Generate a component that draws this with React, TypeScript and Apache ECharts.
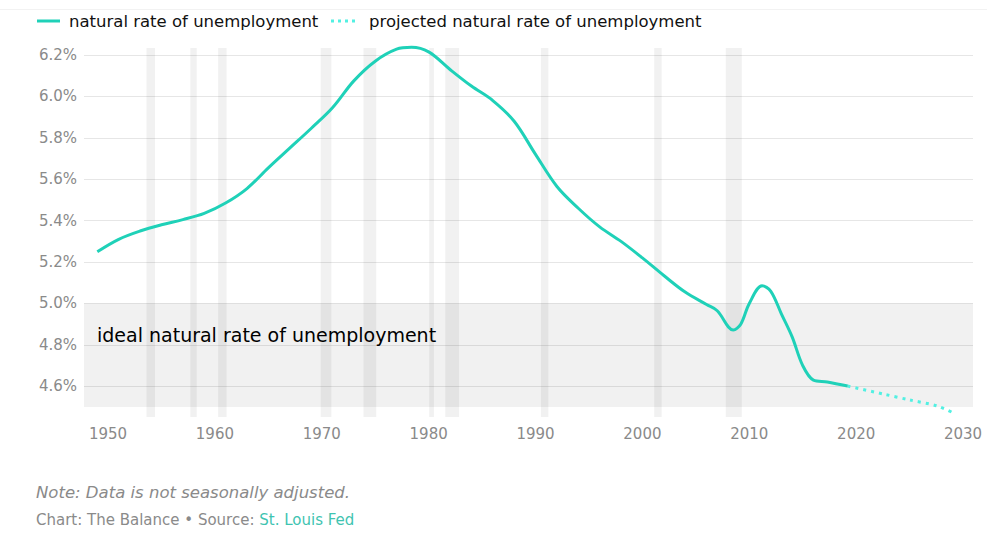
import React, { useEffect, useRef } from "react";
import * as echarts from "echarts";

// Natural rate of unemployment (%)
const years = [
  1949, 1951, 1953, 1955, 1957, 1959, 1961, 1963, 1965, 1967, 1969, 1971, 1973,
  1975, 1977, 1978.4, 1980, 1982, 1984, 1986, 1988, 1990, 1992, 1994, 1996, 1998,
  2000, 2002, 2004, 2006, 2007, 2008.5, 2009.2, 2010, 2011.2, 2012, 2013, 2014,
  2015, 2016, 2017.3, 2019.2,
];
const rates = [
  5.25, 5.31, 5.35, 5.38, 5.405, 5.435, 5.485, 5.555, 5.655, 5.75, 5.845, 5.945, 6.075,
  6.17, 6.228, 6.237, 6.215, 6.13, 6.05, 5.98, 5.88, 5.72, 5.565, 5.46, 5.37, 5.3,
  5.22, 5.135, 5.055, 4.995, 4.965, 4.872, 4.9, 5.0, 5.085, 5.06, 4.95, 4.84, 4.7,
  4.63, 4.621, 4.601,
];
// Projected natural rate of unemployment
const projYears = [2019.2, 2022.5, 2025, 2027.6, 2029.3];
const projRates = [4.601, 4.563, 4.534, 4.505, 4.466];

// Recessions (start, end), decimal years
const recessions = [
  [1953.6, 1954.4],
  [1957.7, 1958.3],
  [1960.3, 1961.1],
  [1969.9, 1970.9],
  [1973.9, 1975.1],
  [1980.05, 1980.5],
  [1981.55, 1982.85],
  [1990.5, 1991.2],
  [2001.1, 2001.8],
  [2007.8, 2009.3],
];

// Ideal range band
const idealLow = 4.5;
const idealHigh = 5.0;

const yTicks = [4.6, 4.8, 5.0, 5.2, 5.4, 5.6, 5.8, 6.0, 6.2];
const xTicks = [1950, 1960, 1970, 1980, 1990, 2000, 2010, 2020, 2030];

const seriesNames = [
  "natural rate of unemployment",
  "projected natural rate of unemployment",
];

const X_MIN = 1947.754;
const X_MAX = 2030.93;
const Y_MIN = 4.4517;
const Y_MAX = 6.2338;

const FONT = "'DejaVu Sans', sans-serif";
const TEAL = "#1fd1b8";
const CYAN = "#52f0e2";
const GREY = "#8a8a8a";

export default function App() {
  const ref = useRef<HTMLDivElement>(null);

  useEffect(() => {
    if (!ref.current) return;
    const chart = echarts.init(ref.current, undefined, { renderer: "svg" });

    const option: any = {
      animation: false,
      backgroundColor: "#ffffff",
      grid: { left: 84, right: 14, top: 48, bottom: 128, containLabel: false },
      xAxis: {
        type: "value",
        min: X_MIN,
        max: X_MAX,
        axisLine: { show: false },
        axisTick: { show: false, customValues: xTicks },
        splitLine: { show: false },
        axisLabel: {
          customValues: xTicks,
          color: GREY,
          fontSize: 15,
          fontFamily: FONT,
          margin: 9,
          formatter: (v: number) => String(Math.round(v)),
        },
      },
      yAxis: {
        type: "value",
        min: Y_MIN,
        max: Y_MAX,
        axisLine: { show: false },
        axisTick: { show: false, customValues: yTicks },
        splitLine: { show: true, lineStyle: { color: "#e6e6e6", width: 1 } },
        axisLabel: {
          customValues: yTicks,
          color: GREY,
          fontSize: 15,
          fontFamily: FONT,
          margin: 7,
          formatter: (v: number) => v.toFixed(1) + "%",
        },
      },
      series: [
        {
          name: "recessions",
          type: "line",
          data: [],
          silent: true,
          markArea: {
            silent: true,
            itemStyle: { color: "rgba(0,0,0,0.055)" },
            data: recessions.map(([a, b]) => [{ xAxis: a }, { xAxis: b }]),
          },
          z: 1,
        },
        {
          name: "ideal",
          type: "line",
          data: [],
          silent: true,
          markArea: {
            silent: true,
            itemStyle: { color: "rgba(0,0,0,0.055)" },
            data: [[{ yAxis: idealLow }, { yAxis: idealHigh }]],
          },
          z: 1,
        },
        {
          name: seriesNames[0],
          type: "line",
          data: years.map((y, i) => [y, rates[i]]),
          smooth: 0.35,
          showSymbol: false,
          symbol: "none",
          clip: false,
          lineStyle: { color: TEAL, width: 3 },
          z: 4,
        },
        {
          name: seriesNames[1],
          type: "line",
          data: projYears.map((y, i) => [y, projRates[i]]),
          smooth: 0.3,
          showSymbol: false,
          symbol: "none",
          clip: false,
          lineStyle: { color: CYAN, width: 3, type: [3, 5] },
          z: 3,
        },
      ],
      graphic: [
        {
          type: "line",
          shape: { x1: 0, y1: 9.5, x2: 987, y2: 9.5 },
          style: { stroke: "#f2f2f2", lineWidth: 1 },
        },
        {
          type: "line",
          shape: { x1: 37, y1: 21, x2: 60, y2: 21 },
          style: { stroke: TEAL, lineWidth: 3 },
        },
        {
          type: "text",
          x: 69,
          y: 21,
          style: {
            text: seriesNames[0],
            fill: "#111",
            font: `16.5px ${FONT}`,
            verticalAlign: "middle",
          },
        },
        {
          type: "line",
          shape: { x1: 331, y1: 21, x2: 355, y2: 21 },
          style: { stroke: CYAN, lineWidth: 3, lineDash: [3, 4] },
        },
        {
          type: "text",
          x: 369,
          y: 21,
          style: {
            text: seriesNames[1],
            fill: "#111",
            font: `16.5px ${FONT}`,
            verticalAlign: "middle",
          },
        },
        {
          type: "text",
          x: 97,
          y: 335,
          z: 10,
          style: {
            text: "ideal natural rate of unemployment",
            fill: "#000",
            font: `19px ${FONT}`,
            verticalAlign: "middle",
          },
        },
        {
          type: "text",
          x: 36,
          y: 492,
          style: {
            text: "Note: Data is not seasonally adjusted.",
            fill: GREY,
            font: `italic 16.5px ${FONT}`,
            verticalAlign: "middle",
          },
        },
        {
          type: "text",
          x: 36,
          y: 520,
          style: {
            text: "{g|Chart: The Balance • Source: }{t|St. Louis Fed}",
            verticalAlign: "middle",
            rich: {
              g: { fill: GREY, fontSize: 15, fontFamily: FONT },
              t: { fill: "#3fc4b1", fontSize: 15, fontFamily: FONT },
            },
          },
        },
      ],
    };

    chart.setOption(option);
    return () => chart.dispose();
  }, []);

  return (
    <div
      ref={ref}
      style={{ position: "absolute", left: 0, top: 0, width: 987, height: 545 }}
    />
  );
}
